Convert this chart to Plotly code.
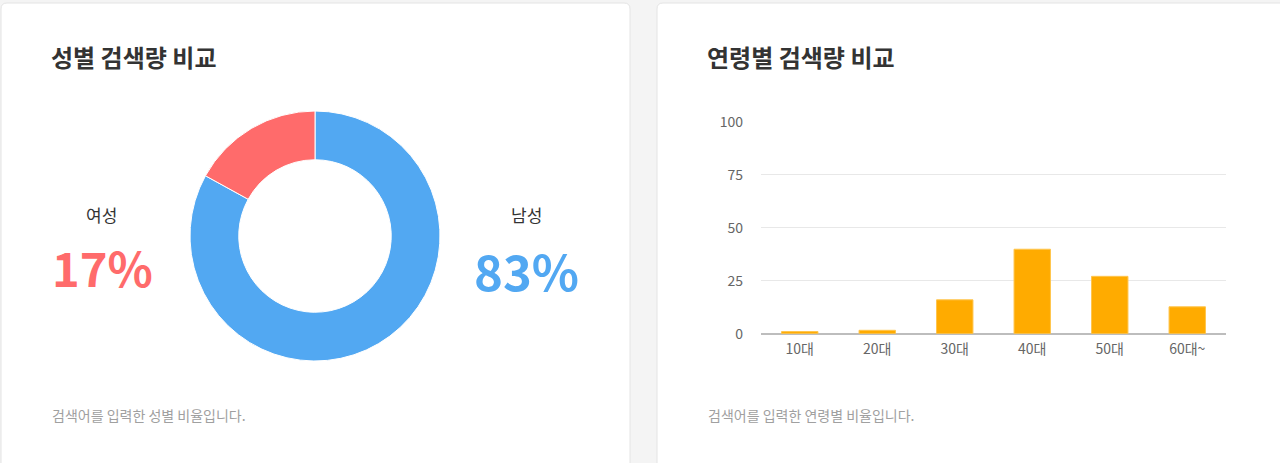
import plotly.graph_objects as go

W, H = 1280, 463

# gender share
gender_labels = ['남성', '여성']
gender_values = [83, 17]
gender_colors = ['#52a8f2', '#ff6b6b']

# age distribution
age_labels = ['10대', '20대', '30대', '40대', '50대', '60대~']
age_values = [1.0, 1.6, 16.0, 39.9, 27.1, 12.7]
y_ticks = [0, 25, 50, 75, 100]

FONT = 'Noto Sans CJK KR'


def px(x):
    return x / W


def py(y):
    return 1 - y / H


def card(x0, y0, x1, y1, r=6):
    # rounded rectangle in paper coords
    rx, ry = r / W, r / H
    a0, a1, b0, b1 = px(x0), px(x1), py(y1), py(y0)
    path = (f'M{a0 + rx},{b1} L{a1 - rx},{b1} Q{a1},{b1} {a1},{b1 - ry} '
            f'L{a1},{b0 + ry} Q{a1},{b0} {a1 - rx},{b0} '
            f'L{a0 + rx},{b0} Q{a0},{b0} {a0},{b0 + ry} '
            f'L{a0},{b1 - ry} Q{a0},{b1} {a0 + rx},{b1} Z')
    return dict(type='path', path=path, xref='paper', yref='paper',
                fillcolor='white', line=dict(color='#e4e4e4', width=1), layer='below')


fig = go.Figure()

fig.add_trace(go.Pie(
    labels=gender_labels, values=gender_values, hole=0.61, sort=False,
    direction='clockwise', rotation=0, textinfo='none', hoverinfo='label+percent',
    marker=dict(colors=gender_colors, line=dict(color='white', width=1)),
    domain=dict(x=[px(190), px(440)], y=[py(361), py(111)]),
    showlegend=False,
))

fig.add_trace(go.Bar(
    x=age_labels, y=age_values, marker=dict(color='#ffab00', line=dict(color='#ffc54d', width=1)),
    showlegend=False, hoverinfo='x+y',
))

annotations = [
    dict(x=px(49), y=py(57), text='<b>성별 검색량 비교</b>', xanchor='left', yanchor='middle',
         font=dict(size=24, color='#333333')),
    dict(x=px(705), y=py(57), text='<b>연령별 검색량 비교</b>', xanchor='left', yanchor='middle',
         font=dict(size=24, color='#333333')),
    dict(x=px(101), y=py(215), text='여성', xanchor='center', yanchor='middle',
         font=dict(size=17, color='#333333')),
    dict(x=px(102), y=py(266), text='<b>%d%%</b>' % gender_values[1], xanchor='center', yanchor='middle',
         font=dict(size=47, color=gender_colors[1])),
    dict(x=px(526), y=py(215), text='남성', xanchor='center', yanchor='middle',
         font=dict(size=17, color='#333333')),
    dict(x=px(526), y=py(269), text='<b>%d%%</b>' % gender_values[0], xanchor='center', yanchor='middle',
         font=dict(size=49, color=gender_colors[0])),
    dict(x=px(50), y=py(415), text='검색어를 입력한 성별 비율입니다.', xanchor='left', yanchor='middle',
         font=dict(size=14, color='#a0a0a0')),
    dict(x=px(706), y=py(415), text='검색어를 입력한 연령별 비율입니다.', xanchor='left', yanchor='middle',
         font=dict(size=14, color='#a0a0a0')),
]
for a in annotations:
    a.update(xref='paper', yref='paper', showarrow=False)
    a['font']['family'] = FONT

fig.update_layout(
    width=W, height=H, margin=dict(l=0, r=0, t=0, b=0, autoexpand=False),
    paper_bgcolor='#f4f4f4', plot_bgcolor='rgba(0,0,0,0)',
    font=dict(family=FONT),
    bargap=0.53,
    shapes=[card(1, 3, 630, 475), card(657, 3, 1290, 475)],
    annotations=annotations,
    xaxis=dict(domain=[px(761), px(1226)], showgrid=False, showline=False, zeroline=False,
               ticks='', tickfont=dict(size=14, color='#666666'), ticklabelstandoff=5,
               automargin=False, fixedrange=True),
    yaxis=dict(domain=[py(333.7), py(122)], range=[0, 100], tickvals=y_ticks,
               showgrid=True, gridcolor='#e8e8e8', gridwidth=1,
               zeroline=True, zerolinecolor='#bdbdbd', zerolinewidth=2,
               showline=False, ticks='', tickfont=dict(size=14, color='#666666'),
               ticklabelstandoff=17, automargin=False, fixedrange=True),
)

fig.write_html('out.html', config={'displayModeBar': False},
               post_script="document.body.style.margin = '0';")
